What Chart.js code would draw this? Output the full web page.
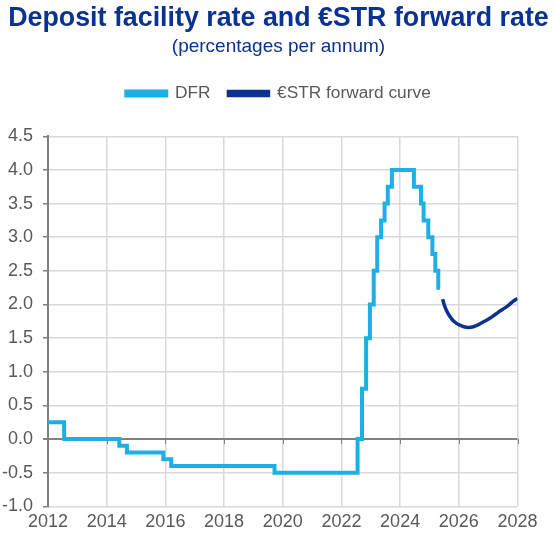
<!DOCTYPE html>
<html><head><meta charset="utf-8">
<script src="https://cdn.jsdelivr.net/npm/chart.js@4"></script>
<style>html,body{margin:0;padding:0;background:#fff}#wrap{width:556px;height:539px}</style>
</head><body><div id="wrap"><canvas id="c"></canvas></div>
<script>
const dfrDates  = [2012.0, 2012.55, 2014.43, 2014.69, 2015.93, 2016.20, 2019.72, 2022.55, 2022.70, 2022.84, 2022.97, 2023.10, 2023.22, 2023.35, 2023.47, 2023.58, 2023.72, 2024.47, 2024.71, 2024.80, 2024.96, 2025.10, 2025.20, 2025.30, 2025.36];
const dfrValues = [0.25,   0.00,    -0.10,   -0.20,   -0.30,   -0.40,   -0.50,   0.00,    0.75,    1.50,    2.00,    2.50,    3.00,    3.25,    3.50,    3.75,    4.00,    3.75,    3.50,    3.25,    3.00,    2.75,    2.50,    2.25,    2.25];
const estrDates  = [2025.45, 2025.50, 2025.58, 2025.67, 2025.75, 2025.83, 2025.92, 2026.00, 2026.17, 2026.33, 2026.50, 2026.67, 2026.83, 2027.00, 2027.17, 2027.33, 2027.50, 2027.67, 2027.83, 2028.00];
const estrValues = [2.08,    2.00,    1.91,    1.84,    1.79,    1.75,    1.72,    1.70,    1.67,    1.66,    1.67,    1.70,    1.74,    1.78,    1.83,    1.88,    1.93,    1.98,    2.04,    2.09];
const seriesNames = ['DFR', '€STR forward curve'];
const titleText = 'Deposit facility rate and €STR forward rate';
const subtitleText = '(percentages per annum)';

const LIGHT = '#1cb0e6', DARK = '#0a3291';
const FONT = "'Liberation Sans', Arial, sans-serif";

const zeroTicks = {
  id: 'zeroTicks',
  afterDatasetsDraw(chart) {
    const {ctx, scales: {x, y}} = chart;
    const y0 = y.getPixelForValue(0);
    ctx.save();
    ctx.strokeStyle = '#808080';
    ctx.lineWidth = 1;
    for (let v = x.min; v <= x.max; v += 2) {
      const px = Math.round(x.getPixelForValue(v)) + 0.5;
      ctx.beginPath(); ctx.moveTo(px, y0); ctx.lineTo(px, y0 + 5); ctx.stroke();
    }
    ctx.restore();
  }
};
const legendGap = {
  id: 'legendGap',
  afterInit(chart) {
    const lg = chart.legend;
    if (!lg) return;
    const f = lg.fit;
    lg.fit = function () { f.call(this); this.height += 24; };
  }
};

new Chart(document.getElementById('c'), {
  type: 'line',
  data: {
    datasets: [
      { label: seriesNames[0], data: dfrDates.map((d, i) => ({x: d, y: dfrValues[i]})),
        borderColor: LIGHT, backgroundColor: LIGHT, borderWidth: 4, pointRadius: 0, stepped: true },
      { label: seriesNames[1], data: estrDates.map((d, i) => ({x: d, y: estrValues[i]})),
        borderColor: DARK, backgroundColor: DARK, borderWidth: 3.5, pointRadius: 0, cubicInterpolationMode: 'monotone' }
    ]
  },
  options: {
    responsive: true, maintainAspectRatio: false, animation: false,
    layout: { padding: { left: 1, right: 0, top: 0, bottom: 1 } },
    plugins: {
      title: { display: true, text: titleText, color: DARK, font: { family: FONT, size: 26.8, weight: 'bold' }, padding: { top: 3, bottom: 0 } },
      subtitle: { display: true, text: subtitleText, color: DARK, font: { family: FONT, size: 19 }, padding: { top: 0, bottom: 9 } },
      legend: { display: true, labels: { color: '#595959', font: { family: FONT, size: 17.3 }, boxWidth: 40, boxHeight: 4, padding: 18 } },
      tooltip: { enabled: false }
    },
    scales: {
      x: { type: 'linear', min: 2012, max: 2028,
        afterFit: s => { s.paddingRight = 38.5; },
        ticks: { stepSize: 2, color: '#595959', font: { family: FONT, size: 18 }, callback: v => String(v), maxRotation: 0, padding: 5 },
        grid: { color: '#d9d9d9', lineWidth: 1.5, drawTicks: false },
        border: { display: false } },
      y: { min: -1, max: 4.5,
        afterFit: s => { s.width = 47; },
        ticks: { stepSize: 0.5, color: '#595959', font: { family: FONT, size: 18 }, callback: v => v.toFixed(1), padding: 10 },
        grid: { color: c => c.tick && c.tick.value === 0 ? '#808080' : '#d9d9d9', lineWidth: c => c.tick && c.tick.value === 0 ? 2 : 1.5, tickLength: 5, tickColor: '#808080' },
        border: { display: true, color: '#808080', width: 2 } }
    }
  },
  plugins: [zeroTicks, legendGap]
});
</script></body></html>
